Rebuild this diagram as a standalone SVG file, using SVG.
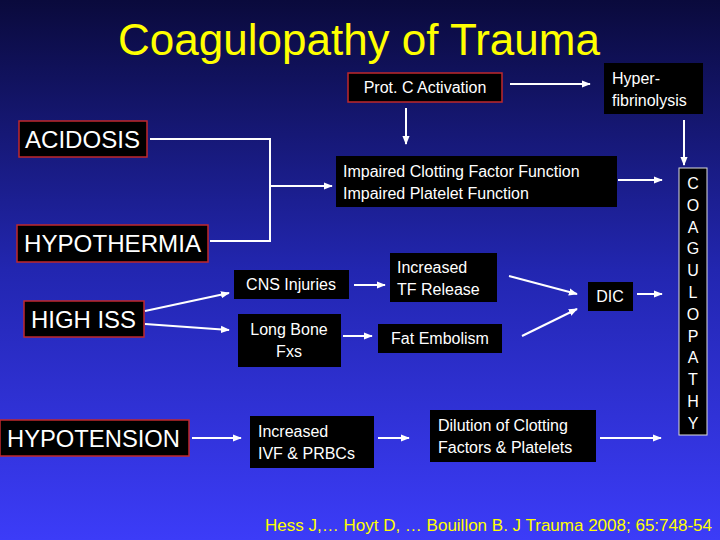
<svg xmlns="http://www.w3.org/2000/svg" width="720" height="540" viewBox="0 0 720 540">
<defs>
<linearGradient id="bg" x1="0" y1="0" x2="0" y2="1">
<stop offset="0" stop-color="#0a0a3c"/><stop offset="0.5" stop-color="#2226b0"/><stop offset="1" stop-color="#3c3cf8"/>
</linearGradient>
<marker id="ah" viewBox="0 0 10 10" refX="9" refY="5" markerWidth="4.5" markerHeight="4.5" orient="auto"><path d="M0,1 L10,5 L0,9 Z" fill="#fff"/></marker>
<style>
.b{fill:#000}
.r{fill:#000;stroke:#c0282c;stroke-width:1.5}
.t{fill:#fff;font-family:"Liberation Sans",Arial,sans-serif;font-size:16px}
.L{fill:#fff;font-family:"Liberation Sans",Arial,sans-serif;font-size:24px}
.c{stroke:#fff;stroke-width:2;fill:none}
.a{stroke:#fff;stroke-width:2;fill:none;marker-end:url(#ah)}
.y{fill:#ffff00;font-family:"Liberation Sans",Arial,sans-serif}
</style>
</defs>
<rect width="720" height="540" fill="url(#bg)"/>
<text class="y" x="359" y="55" font-size="44" text-anchor="middle">Coagulopathy of Trauma</text>
<g id="protc"><rect class="r" x="348" y="73" width="154" height="29"/><text class="t" x="425" y="93" text-anchor="middle">Prot. C Activation</text></g>
<g id="hyper"><rect class="b" x="604" y="63" width="99" height="51"/><text class="t" x="612" y="84">Hyper-</text><text class="t" x="612" y="106">fibrinolysis</text></g>
<g id="acidosis"><rect class="r" x="19" y="121" width="128" height="36"/><text class="L" x="25" y="148" textLength="115" lengthAdjust="spacingAndGlyphs">ACIDOSIS</text></g>
<g id="impaired"><rect class="b" x="336" y="156" width="281" height="51"/><text class="t" x="343" y="177">Impaired Clotting Factor Function</text><text class="t" x="343" y="199">Impaired Platelet Function</text></g>
<g id="hypothermia"><rect class="r" x="17" y="225" width="191" height="37"/><text class="L" x="24" y="252" textLength="177" lengthAdjust="spacingAndGlyphs">HYPOTHERMIA</text></g>
<g id="coag"><rect x="679" y="168" width="28" height="267" fill="#000" stroke="#ddd" stroke-width="1"/>
<text class="t" x="693" text-anchor="middle" font-size="17"><tspan x="693" y="189">C</tspan><tspan x="693" y="211">O</tspan><tspan x="693" y="233">A</tspan><tspan x="693" y="254">G</tspan><tspan x="693" y="276">U</tspan><tspan x="693" y="298">L</tspan><tspan x="693" y="320">O</tspan><tspan x="693" y="342">P</tspan><tspan x="693" y="363">A</tspan><tspan x="693" y="385">T</tspan><tspan x="693" y="407">H</tspan><tspan x="693" y="429">Y</tspan></text></g>
<g id="cns"><rect class="b" x="234" y="270" width="115" height="29"/><text class="t" x="291" y="290" text-anchor="middle">CNS Injuries</text></g>
<g id="tf"><rect class="b" x="390" y="253" width="107" height="49"/><text class="t" x="397" y="273">Increased</text><text class="t" x="397" y="295">TF Release</text></g>
<g id="dic"><rect class="b" x="588" y="282" width="45" height="29"/><text class="t" x="610" y="302" text-anchor="middle">DIC</text></g>
<g id="highiss"><rect class="r" x="24" y="301" width="120" height="36"/><text class="L" x="31" y="328" textLength="105" lengthAdjust="spacingAndGlyphs">HIGH ISS</text></g>
<g id="longbone"><rect class="b" x="238" y="314" width="103" height="53"/><text class="t" x="289" y="335" text-anchor="middle">Long Bone</text><text class="t" x="289" y="357" text-anchor="middle">Fxs</text></g>
<g id="fat"><rect class="b" x="378" y="324" width="124" height="29"/><text class="t" x="440" y="344" text-anchor="middle">Fat Embolism</text></g>
<g id="hypotension"><rect class="r" x="0" y="420" width="189" height="36"/><text class="L" x="7" y="447" textLength="173" lengthAdjust="spacingAndGlyphs">HYPOTENSION</text></g>
<g id="ivf"><rect class="b" x="250" y="416" width="124" height="52"/><text class="t" x="258" y="437">Increased</text><text class="t" x="258" y="459">IVF &amp; PRBCs</text></g>
<g id="dilution"><rect class="b" x="430" y="410" width="166" height="52"/><text class="t" x="438" y="431">Dilution of Clotting</text><text class="t" x="438" y="453">Factors &amp; Platelets</text></g>
<g id="connectors">
<line class="a" x1="510" y1="84" x2="590" y2="84"/>
<line class="a" x1="406" y1="108" x2="406" y2="144"/>
<line class="a" x1="684" y1="120" x2="684" y2="165"/>
<polyline class="c" points="150,139 270,139 270,241 210,241"/>
<line class="a" x1="270" y1="186" x2="332" y2="186"/>
<line class="a" x1="618" y1="180" x2="662" y2="180"/>
<line class="a" x1="354" y1="285" x2="385" y2="285"/>
<line class="a" x1="509" y1="276" x2="577" y2="294"/>
<line class="a" x1="522" y1="336" x2="577" y2="309"/>
<line class="a" x1="637" y1="294" x2="662" y2="294"/>
<line class="a" x1="145" y1="311" x2="229" y2="293"/>
<line class="a" x1="145" y1="324" x2="229" y2="330"/>
<line class="a" x1="343" y1="336" x2="372" y2="336"/>
<line class="a" x1="192" y1="438" x2="241" y2="438"/>
<line class="a" x1="378" y1="438" x2="409" y2="438"/>
<line class="a" x1="600" y1="438" x2="661" y2="438"/>
</g>
<text class="y" x="712" y="531" font-size="17" text-anchor="end">Hess J,… Hoyt D, … Bouillon B. J Trauma 2008; 65:748-54</text>
</svg>
